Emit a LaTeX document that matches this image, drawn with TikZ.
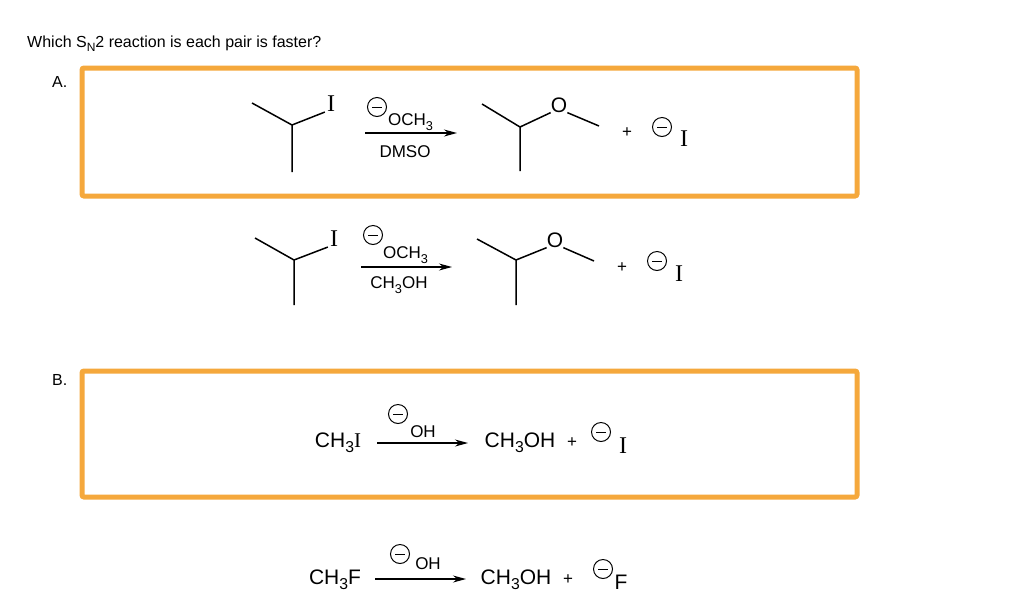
\documentclass[tikz,border=0pt]{standalone}
\usepackage{fontspec}
\setmainfont{Liberation Sans}
\newfontfamily\serifI{Liberation Serif}
\usetikzlibrary{arrows.meta}
\definecolor{boxorange}{HTML}{F5A83C}
\tikzset{
  bond/.style={line width=1.5pt},
  rxn/.style={line width=1.3pt,-{Stealth[length=13pt,width=7pt]}},
  obox/.style={draw=boxorange,line width=5pt,rounded corners=2pt},
  lab/.style={inner sep=0pt,font=\fontsize{17}{19}\selectfont},
  big/.style={inner sep=0pt,font=\fontsize{21}{23}\selectfont},
  iat/.style={inner sep=0pt,font=\serifI\fontsize{24}{26}\selectfont},
  minus/.style={circle,draw,line width=1pt,minimum size=19pt,inner sep=0pt,
    path picture={\draw[line width=1pt] ([xshift=-5pt]path picture bounding box.center) -- ([xshift=5pt]path picture bounding box.center);}},
}
\newcommand{\subs}[1]{\raisebox{-0.25em}{\fontsize{0.75em}{0.8em}\selectfont #1}}
\begin{document}
\begin{tikzpicture}[x=1pt,y=-1pt]
\useasboundingbox (0,0) rectangle (1024,606);
\fill[white] (0,0) rectangle (1024,606);
\node[anchor=west,inner sep=0pt,font=\fontsize{16}{18}\selectfont] (title) at (27,44) {Which S\subs{N}2 reaction is each pair is faster?};
\node[anchor=west,inner sep=0pt,font=\fontsize{16}{18}\selectfont] (la) at (52,82) {A.};
\node[anchor=west,inner sep=0pt,font=\fontsize{16}{18}\selectfont] (lb) at (52,380) {B.};
\draw[obox] (82,68) rectangle (857,196);
\draw[obox] (82,371) rectangle (857,497);
% row 1
\coordinate (a1) at (252,103); \coordinate (c1) at (292,125); \coordinate (d1) at (292,172);
\node[iat] (i1) at (331,104) {I};
\draw[bond] (a1) -- (c1) -- (d1); \draw[bond] (c1) -- ([xshift=-2pt]i1.south west);
\node[minus] (m1) at (377,107) {};
\node[lab,anchor=west] (r1) at (388,122) {OCH\subs{3}};
\coordinate (s1) at (365,133); \coordinate (e1) at (457,133);
\draw[rxn] (s1) -- (e1);
\node[lab] (sol1) at (405,152) {DMSO};
\coordinate (pa1) at (482,104); \coordinate (pc1) at (520,127); \coordinate (pd1) at (520,171); \coordinate (pe1) at (599,126);
\node[big] (o1) at (559,105) {O};
\draw[bond] (pa1) -- (pc1) -- (pd1); \draw[bond] (pc1) -- (o1.south west); \draw[bond] (o1.south east) -- (pe1);
\node[lab] (p1) at (627,133) {+};
\node[minus] (mm1) at (662,127) {};
\node[iat] (ii1) at (684,139) {I};
% row 2
\coordinate (a2) at (255,238); \coordinate (c2) at (294,260); \coordinate (d2) at (294,305);
\node[iat] (i2) at (334,239) {I};
\draw[bond] (a2) -- (c2) -- (d2); \draw[bond] (c2) -- ([xshift=-2pt]i2.south west);
\node[minus] (m2) at (373,235) {};
\node[lab,anchor=west] (r2) at (383,255) {OCH\subs{3}};
\coordinate (s2) at (361,267); \coordinate (e2) at (452,267);
\draw[rxn] (s2) -- (e2);
\node[lab] (sol2) at (399,285) {CH\subs{3}OH};
\coordinate (pa2) at (477,239); \coordinate (pc2) at (516,260); \coordinate (pd2) at (516,305); \coordinate (pe2) at (594,261);
\node[big] (o2) at (555,240) {O};
\draw[bond] (pa2) -- (pc2) -- (pd2); \draw[bond] (pc2) -- (o2.south west); \draw[bond] (o2.south east) -- (pe2);
\node[lab] (p2) at (622,268) {+};
\node[minus] (mm2) at (657,261) {};
\node[iat] (ii2) at (679,274) {I};
% row 3
\node[big] (b1) at (338,443) {CH\subs{3}{\serifI I}};
\node[minus] (m3) at (398,414) {};
\node[lab] (oh1) at (423,432) {OH};
\coordinate (s3) at (377,443); \coordinate (e3) at (468,443);
\draw[rxn] (s3) -- (e3);
\node[big] (pb1) at (520,443) {CH\subs{3}OH};
\node[lab] (p3) at (572,443) {+};
\node[minus] (mm3) at (601,432) {};
\node[iat] (ii3) at (623,446) {I};
% row 4
\node[big] (b2) at (335,580) {CH\subs{3}F};
\node[minus] (m4) at (400,554) {};
\node[lab] (oh2) at (428,564) {OH};
\coordinate (s4) at (375,579); \coordinate (e4) at (466,579);
\draw[rxn] (s4) -- (e4);
\node[big] (pb2) at (516,580) {CH\subs{3}OH};
\node[lab] (p4) at (568,580) {+};
\node[minus] (mm4) at (603,569) {};
\node[big] (ff) at (621,582) {F};
\end{tikzpicture}
\end{document}
